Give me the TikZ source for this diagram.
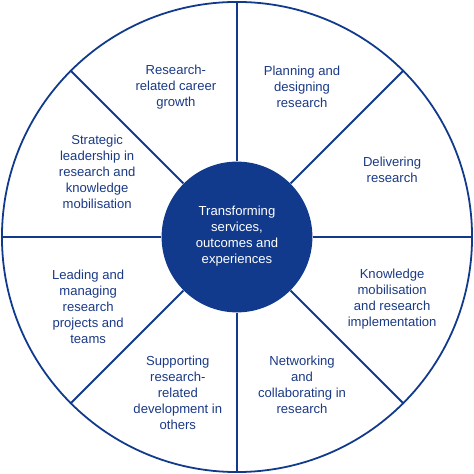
\documentclass[tikz,border=0pt]{standalone}
\usepackage{fontspec}
\setmainfont{Liberation Sans}
\usepackage{tikz}
\usetikzlibrary{calc,positioning}
\usepackage{xcolor}
\definecolor{wheelnavy}{HTML}{113A8C}
\definecolor{labelnavy}{HTML}{1B3A86}

\begin{document}
\begin{tikzpicture}[
    every node/.style={font=\fontsize{9.5}{11.6}\selectfont},
    rimline/.style={draw=wheelnavy, line width=1.3pt},
    segtext/.style={color=labelnavy, align=center, inner sep=1pt},
    hubtext/.style={color=white, align=center, inner sep=1pt},
]

\useasboundingbox (-6.05,-6.05) rectangle (6.05,6.05);

% ── Outer rim ───────────────────────────────────────────────────
\node[rimline, circle, minimum size=12cm, inner sep=0pt] (rim) at (0,0) {};

% ── Hub ─────────────────────────────────────────────────────────
\node[circle, fill=wheelnavy, minimum size=3.85cm, inner sep=0pt] (hub) at (0,0) {};
\node[hubtext] (hublbl) at (0,0.02)
  {Transforming\\services,\\outcomes and\\experiences};

% ── Spokes ──────────────────────────────────────────────────────
\foreach \a in {0,45,...,315}{
  \draw[rimline] (hub.\a) -- (rim.\a);
}

% ── Segment labels ──────────────────────────────────────────────
\node[segtext] (career)  at (-1.56, 3.83) {Research-\\related career\\growth};
\node[segtext] (plan)    at (1.66, 3.83)  {Planning and\\designing\\research};
\node[segtext] (deliver) at (3.96, 1.71)  {Delivering\\research};
\node[segtext] (mobil)   at (3.96, -1.58) {Knowledge\\mobilisation\\and research\\implementation};
\node[segtext] (network) at (1.66, -3.78) {Networking\\and\\collaborating in\\research};
\node[segtext] (support) at (-1.51, -3.98) {Supporting\\research-\\related\\development in\\others};
\node[segtext] (lead)    at (-3.80, -1.79) {Leading and\\managing\\research\\projects and\\teams};
\node[segtext] (strat)   at (-3.57, 1.66) {Strategic\\leadership in\\research and\\knowledge\\mobilisation};

\end{tikzpicture}
\end{document}
